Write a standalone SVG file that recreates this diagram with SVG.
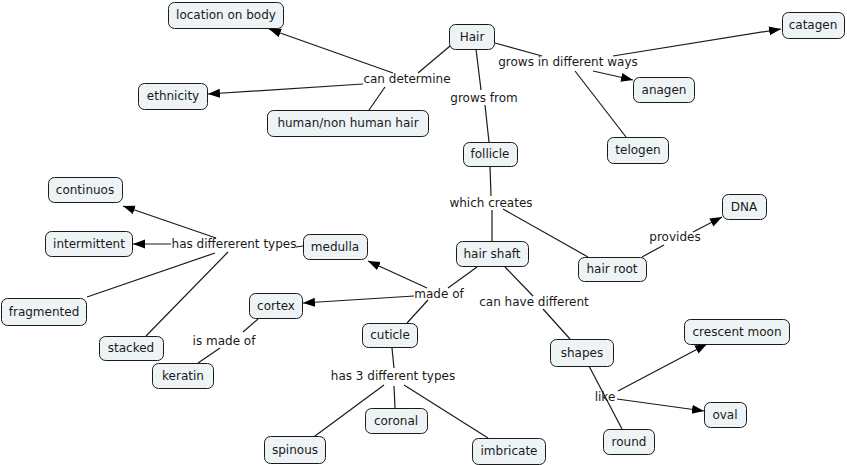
<svg xmlns="http://www.w3.org/2000/svg" width="847" height="465" viewBox="0 0 847 465">
<style>
.n rect{fill:#eef3f5;stroke:#1a1a1a;stroke-width:1}
text{font-family:"DejaVu Sans","Verdana",sans-serif;font-size:12px;fill:#1a1a1a;text-anchor:middle}
#connectors line{stroke:#1a1a1a;stroke-width:1.2;fill:none}
#connectors line.a{marker-end:url(#arr)}
</style>
<defs>
<marker id="arr" markerUnits="userSpaceOnUse" markerWidth="13" markerHeight="10" refX="12" refY="4.5" orient="auto" viewBox="0 0 13 10">
<path d="M0,0 L12,4.5 L0,9 z" fill="#000"/>
</marker>
</defs>
<rect width="847" height="465" fill="#fff"/>
<g id="connectors">
<line x1="450" y1="46" x2="418" y2="73"/>
<line class="a" x1="393" y1="73" x2="269" y2="29"/>
<line class="a" x1="363" y1="84" x2="208" y2="94"/>
<line x1="385" y1="87" x2="369" y2="110"/>
<line x1="495" y1="43" x2="542" y2="56"/>
<line class="a" x1="613" y1="56" x2="781" y2="29"/>
<line class="a" x1="593" y1="71" x2="633" y2="80"/>
<line x1="575" y1="71" x2="626" y2="137"/>
<line x1="476" y1="49" x2="481" y2="90"/>
<line x1="485" y1="105" x2="489" y2="142"/>
<line x1="490" y1="166" x2="491" y2="196"/>
<line x1="492" y1="210" x2="492" y2="241"/>
<line x1="503" y1="209" x2="588" y2="257"/>
<line x1="642" y1="257" x2="664" y2="245"/>
<line class="a" x1="693" y1="232" x2="722" y2="217"/>
<line x1="477" y1="267" x2="448" y2="288"/>
<line class="a" x1="427" y1="288" x2="368" y2="261"/>
<line class="a" x1="414" y1="296" x2="303" y2="303"/>
<line x1="428" y1="300" x2="407" y2="323"/>
<line x1="505" y1="267" x2="533" y2="296"/>
<line x1="543" y1="309" x2="570" y2="339"/>
<line x1="589" y1="366" x2="622" y2="429"/>
<line class="a" x1="618" y1="391" x2="707" y2="344"/>
<line class="a" x1="617" y1="399" x2="704" y2="411"/>
<line x1="296" y1="247" x2="303" y2="246"/>
<line class="a" x1="216" y1="238" x2="123" y2="206"/>
<line class="a" x1="171" y1="244" x2="133" y2="244"/>
<line x1="215" y1="253" x2="87" y2="297"/>
<line x1="228" y1="252" x2="146" y2="336"/>
<line x1="258" y1="319" x2="243" y2="332"/>
<line x1="220" y1="348" x2="198" y2="363"/>
<line x1="392" y1="348" x2="394" y2="368"/>
<line x1="384" y1="385" x2="315" y2="436"/>
<line x1="394" y1="386" x2="395" y2="408"/>
<line x1="404" y1="385" x2="488" y2="438"/>
</g>
<g id="labels">
<text x="407" y="83">can determine</text>
<text x="568" y="66">grows in different ways</text>
<text x="484" y="102">grows from</text>
<text x="491" y="207">which creates</text>
<text x="675" y="241">provides</text>
<text x="234" y="248">has differerent types</text>
<text x="439" y="298">made of</text>
<text x="534" y="306">can have different</text>
<text x="224" y="345">is made of</text>
<text x="393" y="380">has 3 different types</text>
<text x="605" y="401">like</text>
</g>
<g id="n-location" class="n"><rect x="168.5" y="2.5" width="115" height="26" rx="6"/><text x="226" y="19">location on body</text></g>
<g id="n-ethnicity" class="n"><rect x="138.5" y="83.5" width="69" height="26" rx="6"/><text x="173" y="100">ethnicity</text></g>
<g id="n-human" class="n"><rect x="267.5" y="110.5" width="161" height="26" rx="6"/><text x="348" y="127">human/non human hair</text></g>
<g id="n-hair" class="n"><rect x="449.5" y="24.5" width="45" height="25" rx="6"/><text x="472" y="41">Hair</text></g>
<g id="n-catagen" class="n"><rect x="782.5" y="12.5" width="62" height="26" rx="6"/><text x="813" y="29">catagen</text></g>
<g id="n-anagen" class="n"><rect x="633.5" y="77.5" width="61" height="25" rx="6"/><text x="664" y="94">anagen</text></g>
<g id="n-telogen" class="n"><rect x="607.5" y="137.5" width="61" height="26" rx="6"/><text x="638" y="154">telogen</text></g>
<g id="n-follicle" class="n"><rect x="463.5" y="142.5" width="54" height="24" rx="6"/><text x="490" y="158">follicle</text></g>
<g id="n-hairshaft" class="n"><rect x="456.5" y="241.5" width="72" height="25" rx="6"/><text x="492" y="258">hair shaft</text></g>
<g id="n-hairroot" class="n"><rect x="578.5" y="257.5" width="68" height="24" rx="6"/><text x="612" y="273">hair root</text></g>
<g id="n-dna" class="n"><rect x="722.5" y="194.5" width="44" height="25" rx="6"/><text x="744" y="211">DNA</text></g>
<g id="n-medulla" class="n"><rect x="303.5" y="234.5" width="64" height="25" rx="6"/><text x="335" y="251">medulla</text></g>
<g id="n-cortex" class="n"><rect x="249.5" y="293.5" width="53" height="25" rx="6"/><text x="276" y="310">cortex</text></g>
<g id="n-cuticle" class="n"><rect x="362.5" y="323.5" width="55" height="24" rx="6"/><text x="390" y="339">cuticle</text></g>
<g id="n-spinous" class="n"><rect x="264.5" y="436.5" width="61" height="27" rx="6"/><text x="295" y="454">spinous</text></g>
<g id="n-coronal" class="n"><rect x="365.5" y="408.5" width="62" height="25" rx="6"/><text x="396" y="425">coronal</text></g>
<g id="n-imbricate" class="n"><rect x="472.5" y="438.5" width="73" height="26" rx="6"/><text x="509" y="455">imbricate</text></g>
<g id="n-shapes" class="n"><rect x="550.5" y="339.5" width="63" height="27" rx="6"/><text x="582" y="357">shapes</text></g>
<g id="n-crescent" class="n"><rect x="684.5" y="319.5" width="105" height="25" rx="6"/><text x="737" y="336">crescent moon</text></g>
<g id="n-oval" class="n"><rect x="704.5" y="402.5" width="42" height="25" rx="6"/><text x="725" y="419">oval</text></g>
<g id="n-round" class="n"><rect x="603.5" y="429.5" width="51" height="25" rx="6"/><text x="629" y="446">round</text></g>
<g id="n-continuos" class="n"><rect x="48.5" y="177.5" width="74" height="25" rx="6"/><text x="85" y="194">continuos</text></g>
<g id="n-intermittent" class="n"><rect x="45.5" y="231.5" width="87" height="25" rx="6"/><text x="89" y="248">intermittent</text></g>
<g id="n-fragmented" class="n"><rect x="1.5" y="298.5" width="85" height="27" rx="6"/><text x="44" y="316">fragmented</text></g>
<g id="n-stacked" class="n"><rect x="99.5" y="336.5" width="64" height="24" rx="6"/><text x="131" y="352">stacked</text></g>
<g id="n-keratin" class="n"><rect x="152.5" y="363.5" width="61" height="25" rx="6"/><text x="183" y="380">keratin</text></g>
</svg>
